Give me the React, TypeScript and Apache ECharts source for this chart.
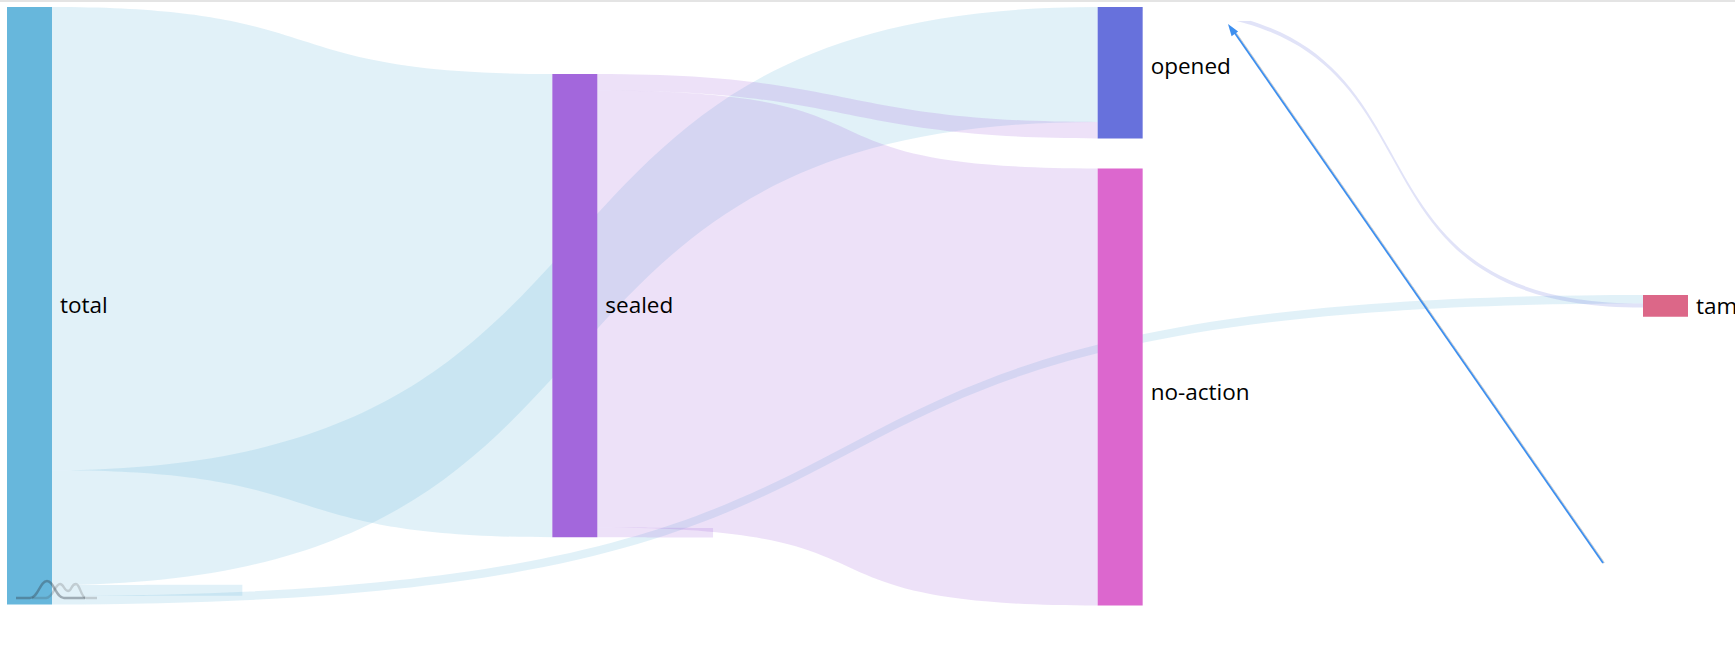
import React, { useEffect, useRef } from "react";
import * as echarts from "echarts";

const nodeNames = ["total", "sealed", "opened", "no-action", "tam"];
const nodeValues = [598, 463.6, 131, 437.5, 21.7];
const nodeColors = ["#67b7dc", "#a367dc", "#6771dc", "#dc67ce", "#dc6788"];
const linkSources = ["total", "total", "total", "sealed", "sealed", "opened"];
const linkTargets = ["sealed", "opened", "tam", "opened", "no-action", "tam"];
const linkValues = [463.6, 115, 8.5, 16.5, 437.5, 4];
const linkCurves = [0.58, 0.6, 0.64, 0.52, 0.66, 0.67];

// The reference's ribbons are a little wider at their source than at their target.
// ECharts ribbons have one width, so these two short unlabelled stubs carry the remainder.
const stubNames = ["rest-of-total", "rest-of-sealed"];
const stubSources = ["total", "sealed"];
const stubValues = [10.9, 9.6];
const stubDepths = [3, 1];
const stubLocalX = [0.14, 0.42];
const stubLocalY = [0.9655, 0.8705];

const W = 1735;
const H = 663;
const TOP = 7;
const BOTTOM = 57.5;
const LEFT = 7;
const RIGHT = 47;
const PLOT_H = H - TOP - BOTTOM;

// vertical placement of the two columns whose nodes do not start at the top
const nodeTopY: Record<string, number> = { sealed: 74, tam: 295 };
const labelOffsetY: Record<string, number> = { total: -1, sealed: -1, opened: -7, "no-action": 5, tam: 0 };

const LOGO_DARK = "M16 598 L30 598 C38 598 40 581 47 581 C54 581 56 598 64 598 L85 598";
const LOGO_LIGHT = "M32 598 L46 598 C53 598 55 584 60 584 C64 584 64 591 68 591 C72 591 71 584 76 584 C80 584 81 598 86 598 L97 598";

echarts.graphic.registerShape("logoDark", echarts.graphic.extendPath(LOGO_DARK, {}));
echarts.graphic.registerShape("logoLight", echarts.graphic.extendPath(LOGO_LIGHT, {}));

export default function App() {
  const ref = useRef<HTMLDivElement>(null);
  useEffect(() => {
    const chart = echarts.init(ref.current!, null, { renderer: "svg" });
    chart.setOption({
      animation: false,
      backgroundColor: "#ffffff",
      series: [
        {
          type: "sankey",
          left: LEFT,
          right: RIGHT,
          top: TOP,
          bottom: BOTTOM,
          nodeWidth: 45,
          nodeGap: 30,
          nodeAlign: "left",
          layoutIterations: 0,
          draggable: false,
          emphasis: { disabled: true },
          label: {
            show: true,
            position: "right",
            distance: 8,
            color: "#000000",
            fontFamily: "Open Sans",
            fontSize: 22.5,
          },
          lineStyle: { color: "source", opacity: 0.2, curveness: 0.55 },
          data: [
            // the first stub sits first in the last column so that total's ribbons stack in the right order
            {
              name: stubNames[0],
              value: stubValues[0],
              depth: stubDepths[0],
              localX: stubLocalX[0],
              localY: stubLocalY[0],
              itemStyle: { opacity: 0, borderWidth: 0 },
              label: { show: false },
            },
            ...nodeNames.map((name, i) => ({
              name,
              value: nodeValues[i],
              itemStyle: { color: nodeColors[i], borderWidth: 0 },
              ...(nodeTopY[name] != null ? { localY: (nodeTopY[name] - TOP) / PLOT_H } : {}),
              label: { offset: [0, labelOffsetY[name] || 0] },
            })),
            {
              name: stubNames[1],
              value: stubValues[1],
              depth: stubDepths[1],
              localX: stubLocalX[1],
              localY: stubLocalY[1],
              itemStyle: { opacity: 0, borderWidth: 0 },
              label: { show: false },
            },
          ],
          links: [
            ...linkValues.slice(0, 2).map((value, i) => ({
              source: linkSources[i],
              target: linkTargets[i],
              value,
              lineStyle: { curveness: linkCurves[i] },
            })),
            { source: stubSources[0], target: stubNames[0], value: stubValues[0] },
            ...linkValues.slice(2).map((value, i) => ({
              source: linkSources[i + 2],
              target: linkTargets[i + 2],
              value,
              lineStyle: { curveness: linkCurves[i + 2] },
            })),
            { source: stubSources[1], target: stubNames[1], value: stubValues[1] },
          ],
        },
      ],
      graphic: [
        { type: "rect", z: 100, shape: { x: 0, y: 0, width: W, height: 2 }, style: { fill: "#e4e4e4" } },
        { type: "rect", z: 100, shape: { x: 1143, y: 6, width: 107, height: 15 }, style: { fill: "#ffffff" } },
        {
          type: "line",
          z: 101,
          shape: { x1: 1603, y1: 563, x2: 1232, y2: 29 },
          style: { stroke: "#3d8fef", lineWidth: 1.7, shadowColor: "rgba(0,0,0,0.25)", shadowBlur: 1, shadowOffsetX: 1, shadowOffsetY: 0 },
        },
        {
          type: "polygon",
          z: 101,
          shape: { points: [[1228, 24], [1238.1, 31.6], [1231.6, 36.2]] },
          style: { fill: "#3d8fef" },
        },
        {
          type: "logoLight",
          z: 102,
          style: { fill: "none", stroke: "rgba(60,60,60,0.2)", lineWidth: 2.4 },
        },
        {
          type: "logoDark",
          z: 102,
          style: { fill: "none", stroke: "rgba(50,60,70,0.38)", lineWidth: 2.4 },
        },
      ],
    });
    return () => chart.dispose();
  }, []);
  return <div ref={ref} style={{ position: "fixed", left: 0, top: 0, width: W, height: H, overflow: "hidden" }} />;
}
